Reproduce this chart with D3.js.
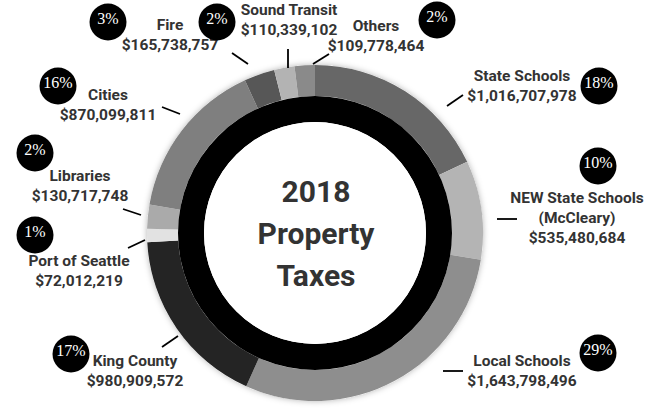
<!DOCTYPE html>
<html>
<head>
<meta charset="utf-8">
<script src="https://cdn.jsdelivr.net/npm/d3@7"></script>
<style>
  html, body { margin: 0; padding: 0; background: #fff; }
  svg { display: block; }
</style>
</head>
<body>
<svg id="chart" width="650" height="411"></svg>
<script>
// ---- data ----
const categories = ["State Schools", "NEW State Schools|(McCleary)", "Local Schools", "King County",
  "Port of Seattle", "Libraries", "Cities", "Fire", "Sound Transit", "Others"];
const values = [1016707978, 535480684, 1643798496, 980909572, 72012219, 130717748,
  870099811, 165738757, 110339102, 109778464];
const percentLabels = ["18%", "10%", "29%", "17%", "1%", "2%", "16%", "3%", "2%", "2%"];
const centerTitle = ["2018", "Property", "Taxes"];

// ---- style / layout ----
const colors = ["#676767", "#b4b4b4", "#8e8e8e", "#242424", "#e2e2e2", "#aaaaaa",
  "#7f7f7f", "#575757", "#b3b3b3", "#8a8a8a"];
const W = 650, H = 411;
const cx = 315, cy = 233;
const rOuter = 168, rInner = 137, rCore = 111;
// annotation layout: label anchor, badge centre, leader endpoints
const layout = [
  { lx: 522, ly: 81,  bx: 599, by: 86,  l: [[447, 106], [463, 95]] },
  { lx: 577, ly: 203, bx: 598, by: 166, l: [[497, 219], [517, 219]] },
  { lx: 522, ly: 366, bx: 598, by: 353, l: [[443, 371], [463, 371]] },
  { lx: 135, ly: 366, bx: 71,  by: 354, l: [[162, 347], [178, 336]] },
  { lx: 79,  ly: 266, bx: 35,  by: 235, l: [[128, 248], [145, 240]] },
  { lx: 80,  ly: 181, bx: 35,  by: 153, l: [[123, 209], [141, 215]] },
  { lx: 108, ly: 100, bx: 58,  by: 86,  l: [[162, 107], [180, 114]] },
  { lx: 170, ly: 30,  bx: 108, by: 22,  l: [[232, 53], [248, 64]] },
  { lx: 289, ly: 15,  bx: 217, by: 22,  l: [[288, 49], [288, 68]] },
  { lx: 376, ly: 31,  bx: 437, by: 20,  l: [[313, 64], [329, 54]] }
];

const svg = d3.select("#chart");
const defs = svg.append("defs");
const f = defs.append("filter").attr("id", "shadow")
  .attr("x", "-20%").attr("y", "-20%").attr("width", "140%").attr("height", "140%");
f.append("feDropShadow").attr("dx", 0).attr("dy", 0).attr("stdDeviation", 3)
  .attr("flood-color", "#000").attr("flood-opacity", 0.3);

const g = svg.append("g").attr("transform", `translate(${cx},${cy})`);

const data = categories.map((c, i) => ({ name: c, value: values[i], pct: percentLabels[i], i }));
const pie = d3.pie().sort(null).value(d => d.value);
const arcs = pie(data);
const arc = d3.arc().innerRadius(rInner).outerRadius(rOuter);

// shadow base
g.append("circle").attr("r", rOuter).attr("fill", "#fff").attr("filter", "url(#shadow)");

g.selectAll("path.slice").data(arcs).join("path")
  .attr("class", "slice")
  .attr("d", arc)
  .attr("fill", d => colors[d.data.i]);

// black inner ring
g.append("path")
  .attr("d", d3.arc().innerRadius(rCore).outerRadius(rInner)({ startAngle: 0, endAngle: 2 * Math.PI }))
  .attr("fill", "#000");

g.append("circle").attr("r", rCore).attr("fill", "#fff");

// centre title
g.selectAll("text.title").data(centerTitle).join("text")
  .attr("class", "title")
  .attr("x", 1)
  .attr("y", (d, i) => -31 + i * 42)
  .attr("text-anchor", "middle")
  .attr("font-family", "Roboto, sans-serif")
  .attr("font-weight", 700)
  .attr("font-size", 30)
  .attr("fill", "#333")
  .text(d => d);

// annotations
const fmt = d3.format(",");
const ann = svg.append("g");
data.forEach((d, i) => {
  const L = layout[i];
  ann.append("line")
    .attr("x1", L.l[0][0]).attr("y1", L.l[0][1])
    .attr("x2", L.l[1][0]).attr("y2", L.l[1][1])
    .attr("stroke", "#000").attr("stroke-width", 1.8);
  const lines = d.name.split("|").concat(["$" + fmt(d.value)]);
  const t = ann.append("text")
    .attr("text-anchor", "middle")
    .attr("font-family", "Roboto, sans-serif")
    .attr("font-weight", 700)
    .attr("font-size", 15.5)
    .attr("fill", "#333");
  lines.forEach((s, k) => {
    t.append("tspan").attr("x", L.lx).attr("y", L.ly + k * 20).text(s);
  });
  ann.append("circle").attr("cx", L.bx).attr("cy", L.by).attr("r", 18.5).attr("fill", "#000");
  ann.append("text")
    .attr("x", L.bx).attr("y", L.by + 2)
    .attr("text-anchor", "middle")
    .attr("font-family", "'Liberation Serif', 'DejaVu Serif', serif")
    .attr("font-size", 16)
    .attr("fill", "#fff")
    .text(d.pct);
});
</script>
</body>
</html>
